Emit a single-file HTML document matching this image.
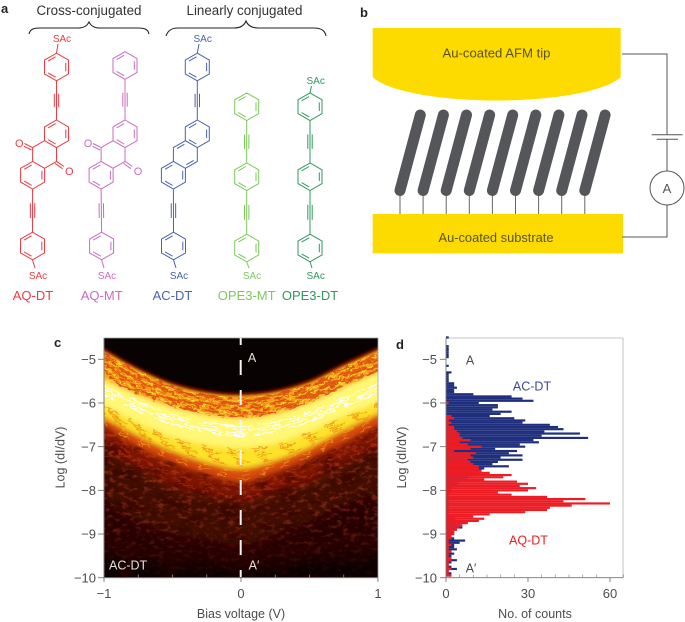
<!DOCTYPE html>
<html>
<head>
<meta charset="utf-8">
<style>
html,body{margin:0;padding:0;background:#fff;}
svg{display:block;font-family:"Liberation Sans",sans-serif;}
.tick{font-size:13px;fill:#4d4d4d;}
.axt{font-size:12.5px;fill:#4d4d4d;}
.pl{font-size:13px;font-weight:bold;fill:#222;}
.sac{font-size:10px;}
.lab{font-size:13px;}
</style>
</head>
<body>
<svg id="fig" width="685" height="622" viewBox="0 0 685 622" xmlns="http://www.w3.org/2000/svg">
<defs id="defs">
<clipPath id="plotclip"><rect x="104" y="338" width="274" height="239.7"/></clipPath>
<filter id="soft" x="-5%" y="-5%" width="110%" height="110%"><feGaussianBlur stdDeviation="1 1"/></filter>
<filter id="medium" x="-5%" y="-5%" width="110%" height="110%"><feGaussianBlur stdDeviation="2 2.6"/></filter>
<filter id="softer" x="-5%" y="-5%" width="110%" height="110%"><feGaussianBlur stdDeviation="4 6"/></filter>
<filter id="jag" x="-5%" y="-5%" width="110%" height="110%">
<feTurbulence type="fractalNoise" baseFrequency="0.16 0.3" numOctaves="2" seed="4" result="n"/>
<feDisplacementMap in="SourceGraphic" in2="n" scale="6" xChannelSelector="R" yChannelSelector="G"/>
<feGaussianBlur stdDeviation="0.35"/>
</filter>
<filter id="speck" x="0" y="0" width="100%" height="100%">
<feTurbulence type="fractalNoise" baseFrequency="0.14 0.24" numOctaves="3" seed="11"/>
<feColorMatrix type="matrix" values="0 0 0 0 0.6  0 0 0 0 0.06  0 0 0 0 0.02  3.8 0 0 0 -1.95"/>
<feGaussianBlur stdDeviation="0.35"/>
</filter>
<filter id="blotch" x="0" y="0" width="100%" height="100%">
<feTurbulence type="fractalNoise" baseFrequency="0.05 0.09" numOctaves="2" seed="23"/>
<feColorMatrix type="matrix" values="0 0 0 0 0.03  0 0 0 0 0  0 0 0 0 0  4 0 0 0 -1.95"/>
</filter>
<linearGradient id="fadeGrad" gradientUnits="userSpaceOnUse" x1="0" y1="440" x2="0" y2="578">
<stop offset="0" stop-color="#fff"/><stop offset="0.6" stop-color="#aaa"/><stop offset="0.88" stop-color="#333"/><stop offset="1" stop-color="#111"/>
</linearGradient>
<mask id="fadeMask" maskUnits="userSpaceOnUse" x="104" y="338" width="274" height="240"><rect x="104" y="338" width="274" height="240" fill="url(#fadeGrad)"/></mask>
</defs>

<!-- panel a -->
<g>
<text class="pl" x="1" y="13">a</text>
<text x="89" y="15" text-anchor="middle" font-size="13.5" fill="#333" textLength="105" lengthAdjust="spacingAndGlyphs">Cross-conjugated</text>
<text x="244.5" y="15" text-anchor="middle" font-size="13.5" fill="#333" textLength="116" lengthAdjust="spacingAndGlyphs">Linearly conjugated</text>
<path d="M29 34 C30 29 34 28 40 28 L78 28 C84 28 87 26 89 22 C91 26 94 28 100 28 L138 28 C144 28 148 29 149 34" fill="none" stroke="#222" stroke-width="1.1"/>
<path d="M166 36 C168 30 172 28 178 28 L234 28 C240 28 244 26 246 21 C248 26 252 28 258 28 L314 28 C320 28 325 30 326 36" fill="none" stroke="#222" stroke-width="1.1"/>

<g id="aq-dt" fill="#ee3a43" stroke="none">
<text class="sac" x="62" y="42" text-anchor="middle">SAc</text>
<text class="sac" x="38" y="279" text-anchor="middle">SAc</text>
<text x="19.3" y="147" text-anchor="middle" font-size="11">O</text>
<text x="69.3" y="175" text-anchor="middle" font-size="11">O</text>
<text class="lab" x="33" y="300" text-anchor="middle">AQ-DT</text>
</g>
<g id="aq-mt" fill="#c86dc0" stroke="none">
<text class="sac" x="107" y="279" text-anchor="middle">SAc</text>
<text x="88" y="147" text-anchor="middle" font-size="11">O</text>
<text x="138" y="175" text-anchor="middle" font-size="11">O</text>
<text class="lab" x="101.7" y="300" text-anchor="middle">AQ-MT</text>
</g>
<g id="ac-dt" fill="#4a62b0" stroke="none">
<text class="sac" x="202.7" y="42" text-anchor="middle">SAc</text>
<text class="sac" x="179" y="279" text-anchor="middle">SAc</text>
<text class="lab" x="172.5" y="300" text-anchor="middle">AC-DT</text>
</g>
<g id="ope3-mt" fill="#7cc85b" stroke="none">
<text class="sac" x="252" y="279" text-anchor="middle">SAc</text>
<text class="lab" x="246.7" y="300" text-anchor="middle">OPE3-MT</text>
</g>
<g id="ope3-dt" fill="#2f9a5c" stroke="none">
<text class="sac" x="315.7" y="84" text-anchor="middle">SAc</text>
<text class="sac" x="315.7" y="279" text-anchor="middle">SAc</text>
<text class="lab" x="310" y="300" text-anchor="middle">OPE3-DT</text>
</g>
</g>

<!-- panel b -->
<g id="panel-b">
<text class="pl" x="360" y="17">b</text>
<path d="M372.7 28 H620.7 V77 C605 92 550 100.5 496.7 100.5 C443 100.5 388 92 372.7 77 Z" fill="#fddb00"/>
<rect x="372.7" y="214" width="250.3" height="39.3" fill="#fddb00"/>
<text x="496.5" y="57.5" text-anchor="middle" font-size="13" fill="#5b5222" textLength="108" lengthAdjust="spacingAndGlyphs">Au-coated AFM tip</text>
<text x="496" y="242" text-anchor="middle" font-size="13" fill="#5b5222" textLength="115" lengthAdjust="spacingAndGlyphs">Au-coated substrate</text>
<path d="M622 54 H667 V134.5 M651.7 134.7 H682.7 M656.7 139.2 H678 M667 139.2 V171 M667 205 V237 H622" fill="none" stroke="#555" stroke-width="1"/>
<circle cx="667" cy="188" r="17" fill="#fff" stroke="#555" stroke-width="1"/>
<text x="667" y="193" text-anchor="middle" font-size="13" fill="#555">A</text>
</g>

<!-- panel c -->
<g id="panel-c">
<rect x="104" y="338" width="274" height="239.7" fill="#080202"/>
<g clip-path="url(#plotclip)">
<g id="bands" filter="url(#soft)"></g>
<g id="mid-bands" filter="url(#medium)"></g>
<g id="deep-bands" filter="url(#softer)"></g>
<g id="lower-texture">
<rect x="104" y="338" width="274" height="239.7" filter="url(#blotch)" opacity="0.45"/>
<g mask="url(#fadeMask)"><rect x="104" y="338" width="274" height="239.7" filter="url(#speck)" opacity="0.55"/></g>
</g>
<g id="streaks" filter="url(#jag)"></g>
</g>
<rect x="104" y="338" width="274" height="239.7" fill="none" stroke="#a0a0a0" stroke-width="0.8"/>
<line x1="240.7" y1="338" x2="240.7" y2="577" stroke="#f4f4f4" stroke-width="2" stroke-dasharray="7 15 15 15 15 15 15 15 15 15 15 15 15 15 15 15 15"/>
<text class="pl" x="54" y="347">c</text>
<text x="252" y="362" text-anchor="middle" font-size="12.5" fill="#e6e0d8">A</text>
<text x="254" y="569.5" text-anchor="middle" font-size="12.5" fill="#e6e0d8">A′</text>
<text x="109" y="569.5" font-size="12.5" fill="#e6e0d8">AC-DT</text>
<text class="axt" x="241" y="618" text-anchor="middle">Bias voltage (V)</text>
<text class="axt" transform="translate(64.5,457.5) rotate(-90)" text-anchor="middle">Log (dI/dV)</text>
<g id="axes-c"></g>
</g>

<!-- panel d -->
<g id="panel-d">
<path d="M446 338 H623 V577.7" fill="none" stroke="#b5b5b5" stroke-width="0.8"/>
<g id="bars-ac"></g>
<g id="bars-aq"></g>
<g id="axes-d"></g>
<text class="pl" x="396" y="349">d</text>
<text x="470" y="364.5" text-anchor="middle" font-size="12.5" fill="#4a4a4a">A</text>
<text x="471" y="572.5" text-anchor="middle" font-size="12.5" fill="#4a4a4a">A′</text>
<text x="532" y="390.5" text-anchor="middle" font-size="12.5" fill="#3f4a94">AC-DT</text>
<text x="528.5" y="544.5" text-anchor="middle" font-size="12.5" fill="#ed1c24">AQ-DT</text>
<text class="axt" x="535" y="618" text-anchor="middle">No. of counts</text>
<text class="axt" transform="translate(406,457.5) rotate(-90)" text-anchor="middle">Log (dI/dV)</text>
</g>
</svg>

<script>
// ---- Chart data ----
const yTicks = [-5, -6, -7, -8, -9, -10];
const yTickLabels = ['−5', '−6', '−7', '−8', '−9', '−10'];
const biasTicks = [-1, 0, 1];
const biasTickLabels = ['−1', '0', '1'];
const biasMinorTicks = [-0.75, -0.5, -0.25, 0.25, 0.5, 0.75];
const countTicks = [0, 30, 60];
const countTickLabels = ['0', '30', '60'];
const countMinorTicks = [5, 10, 15, 20, 25, 35, 40, 45, 50, 55, 65];

// Heatmap band boundaries (log dI/dV) read at each bias voltage
const biasColumns = [-1, -0.75, -0.5, -0.25, 0, 0.25, 0.5, 0.75, 1];
const edgeTop = [-4.73, -5.17, -5.51, -5.70, -5.76, -5.68, -5.45, -5.07, -4.71];
const orangeStart = [-4.82, -5.25, -5.59, -5.78, -5.84, -5.76, -5.54, -5.16, -4.80];
const yellowStart = [-5.45, -5.80, -6.08, -6.26, -6.34, -6.24, -5.98, -5.62, -5.28];
const paleEnd = [-6.05, -6.45, -6.78, -6.95, -7.02, -6.92, -6.65, -6.30, -5.98];
const yellowEnd = [-6.32, -6.75, -7.10, -7.36, -7.50, -7.32, -7.02, -6.62, -6.25];
const orangeEnd = [-6.50, -7.00, -7.35, -7.62, -7.80, -7.58, -7.25, -6.90, -6.50];
const whiteRidge = [-5.72, -6.08, -6.38, -6.56, -6.66, -6.55, -6.32, -5.98, -5.68];
const redEnd = [-7.00, -7.50, -7.90, -8.10, -8.25, -8.05, -7.80, -7.40, -7.05];
const darkEnd = [-8.20, -8.70, -9.00, -9.10, -9.25, -9.00, -8.70, -8.30, -8.10];
const fadeEnd = [-9.45, -9.55, -9.65, -9.65, -9.75, -9.65, -9.55, -9.45, -9.35];

// Histogram: counts per log bin
const logBinStart = -4.5;
const logBinStep = 0.05;
const acDtCounts = [
1,0,0,0,1,1,1,1,1,1,
0,0,0,1,0,0,2,1,1,1,
1,3,3,4,3,3,10,24,28,32,
12,19,19,17,24,20,16,25,29,28,
38,41,43,36,49,35,52,32,34,27,
29,18,26,23,28,20,28,19,17,23,
14,13,12,10,8,6,5,4,3,2,
2,2,1,1,1,1,1,1,1,1,
1,1,2,3,4,4,5,6,4,3,
3,2,3,7,5,3,3,4,2,3,
2,2,4,2,1,2,4,1,2,2];
const aqDtCounts = [
0,0,0,0,0,0,0,0,0,0,
0,0,0,0,0,0,0,0,0,0,
0,0,0,0,0,0,0,0,0,0,
1,0,0,0,0,0,2,3,1,2,
1,3,3,4,5,5,6,9,5,8,
13,9,3,11,9,10,8,9,10,12,
12,13,16,24,21,14,26,30,27,33,
30,19,24,37,51,43,60,46,38,37,
29,16,10,14,12,8,6,5,4,3,
3,2,2,1,1,2,1,1,2,1,
1,2,2,1,1,1,2,1,1,2];

// ---- Scales ----
const NS = 'http://www.w3.org/2000/svg';
const yLog = v => 359.3 + (-5 - v) * 43.68;
const xBias = v => 241 + v * 137;
const xCount = v => 446 + v * 2.733;

function mk(tag, parent, attrs) {
  const el = document.createElementNS(NS, tag);
  for (const k in attrs) el.setAttribute(k, attrs[k]);
  parent.appendChild(el);
  return el;
}

// ---- Heatmap ----
function smoothPath(values) {
  const pts = biasColumns.map((b, i) => [xBias(b), yLog(values[i])]);
  const first = pts[0];
  const last = pts[pts.length - 1];
  const slope0 = (pts[1][1] - first[1]) / (pts[1][0] - first[0]);
  const slope1 = (last[1] - pts[pts.length - 2][1]) / (last[0] - pts[pts.length - 2][0]);
  let d = 'M' + (first[0] - 20) + ' ' + (first[1] - slope0 * 20) + ' L' + first[0] + ' ' + first[1];
  for (let i = 0; i < pts.length - 1; i++) {
    const p0 = pts[Math.max(i - 1, 0)], p1 = pts[i], p2 = pts[i + 1], p3 = pts[Math.min(i + 2, pts.length - 1)];
    d += ' C' + (p1[0] + (p2[0] - p0[0]) / 6) + ' ' + (p1[1] + (p2[1] - p0[1]) / 6) + ' ' +
      (p2[0] - (p3[0] - p1[0]) / 6) + ' ' + (p2[1] - (p3[1] - p1[1]) / 6) + ' ' + p2[0] + ' ' + p2[1];
  }
  d += ' L' + (last[0] + 20) + ' ' + (last[1] + slope1 * 20);
  return d;
}
const bandsG = document.getElementById('bands');
const midG = document.getElementById('mid-bands');
const deepG = document.getElementById('deep-bands');
const upperLevels = [edgeTop, orangeStart];
const upperColors = ['#7a1106', '#f6a01a'];
upperLevels.forEach((lvl, i) => {
  const band = mk('path', bandsG, {d: smoothPath(lvl) + ' V620 H60 Z', fill: upperColors[i]});
  
  
});
const midLevels = [yellowStart, paleEnd, yellowEnd, orangeEnd];
const midColors = ['#fff774', '#fde22a', '#d8490c', '#7e1505'];
midLevels.forEach((lvl, i) => {
  const band = mk('path', midG, {d: smoothPath(lvl) + ' V620 H60 Z', fill: midColors[i]});
  
  
});
const deepLevels = [redEnd, darkEnd, fadeEnd];
const deepColors = ['#400a04', '#260603', '#0c0201'];
deepLevels.forEach((lvl, i) => {
  const band = mk('path', deepG, {d: smoothPath(lvl) + ' V620 H60 Z', fill: deepColors[i]});
  
  
});
// limit speckle texture to the region below the orange boundary
const lowerClip = mk('clipPath', document.getElementById('defs'), {id: 'lowerclip'});


const lowerClipPath = mk('path', lowerClip, {d: smoothPath(orangeEnd) + ' V620 H60 Z'});


document.getElementById('lower-texture').setAttribute('clip-path', 'url(#lowerclip)');

const streaksG = document.getElementById('streaks');
const upperStreakFractions = [0.1, 0.22, 0.34, 0.46, 0.58, 0.7, 0.82, 0.94];
const ridgeStreakOffsets = [-0.1, -0.03, 0.04, 0.11];
const midStreakFractions = [0.1, 0.25, 0.4, 0.55, 0.7, 0.85];
const lowerStreakFractions = [0.2, 0.5, 0.8];
function addStreaks(fractions, from, to, color, width, dash, opacity) {
  fractions.forEach((f, n) => {
    const vals = from.map((v, i) => v + (to[i] - v) * f);
    const s = mk('path', streaksG, {d: smoothPath(vals), fill: 'none', stroke: color, 'stroke-width': width,
      'stroke-dasharray': dash, 'stroke-dashoffset': n * 23, opacity: opacity});
    
    
  });
}
addStreaks(upperStreakFractions, orangeStart, yellowStart, '#d9470c', 1.9, '36 6 20 5 48 9', 0.85);
addStreaks(upperStreakFractions, orangeStart, yellowStart, '#fde52e', 1.1, '14 22 9 17 22 26', 0.9);
ridgeStreakOffsets.forEach((off, n) => {
  const vals = whiteRidge.map(v => v + off);
  const s = mk('path', streaksG, {d: smoothPath(vals), fill: 'none', stroke: '#ffffff', 'stroke-width': 1.2,
    'stroke-dasharray': '34 9 22 14 48 10', 'stroke-dashoffset': n * 29});
  
  
});
addStreaks(midStreakFractions, paleEnd, yellowEnd, '#f09212', 1.2, '9 15 16 11 5 21', 0.85);
addStreaks(lowerStreakFractions, yellowEnd, orangeEnd, '#f6a81c', 1.0, '9 12 13 10 6 15', 0.7);
addStreaks(lowerStreakFractions, orangeEnd, redEnd, '#c7300b', 1.0, '10 10 18 8 7 14', 0.6);

// ---- Axes ----
function drawAxes(g, x0, ticks, labels, labelRight) {
  ticks.forEach((t, i) => {
    const tk = mk('line', g, {x1: x0 - 6, x2: x0, y1: yLog(t), y2: yLog(t), stroke: '#777', 'stroke-width': 0.9});
    
    
    const lb = mk('text', g, {x: labelRight, y: yLog(t) + 4.7, 'text-anchor': 'end', class: 'tick'});
    
    
    lb.textContent = labels[i];
  });
  const spine = mk('line', g, {x1: x0, x2: x0, y1: 338, y2: 577.7, stroke: '#777', 'stroke-width': 0.9});
  
  
}
function drawXTicks(g, scale, ticks, labels, minors, x0, x1) {
  const base = mk('line', g, {x1: x0, x2: x1, y1: 577.7, y2: 577.7, stroke: '#777', 'stroke-width': 0.9});
  
  
  ticks.forEach((t, i) => {
    const tk = mk('line', g, {x1: scale(t), x2: scale(t), y1: 577.7, y2: 582, stroke: '#777', 'stroke-width': 0.9});
    
    
    const lb = mk('text', g, {x: scale(t), y: 598, 'text-anchor': 'middle', class: 'tick'});
    
    
    lb.textContent = labels[i];
  });
  minors.forEach(t => {
    const tk = mk('line', g, {x1: scale(t), x2: scale(t), y1: 577.7, y2: 574.5, stroke: '#999', 'stroke-width': 0.8});
    
    
  });
}
const axesC = document.getElementById('axes-c');
const axesD = document.getElementById('axes-d');
drawAxes(axesC, 104, yTicks, yTickLabels, 96);
drawXTicks(axesC, xBias, biasTicks, biasTickLabels, biasMinorTicks, 104, 378);
drawAxes(axesD, 446, yTicks, yTickLabels, 437);
drawXTicks(axesD, xCount, countTicks, countTickLabels, countMinorTicks, 446, 623);

// ---- Histogram ----
function drawBars(g, counts, color) {
  counts.forEach((c, i) => {
    if (!c) return;
    const top = yLog(logBinStart - logBinStep * i);
    const h = logBinStep * 43.68;
    const bar = mk('rect', g, {x: xCount(0), y: top - h / 2, width: c * 2.733, height: h, fill: color});
    
    
  });
}
drawBars(document.getElementById('bars-ac'), acDtCounts, '#1f2f7d');
drawBars(document.getElementById('bars-aq'), aqDtCounts, '#ed1c24');

// ---- Panel b rods ----
const panelB = document.getElementById('panel-b');
for (let i = 0; i < 9; i++) {
  const dx = i * 23.1;
  const stem = mk('line', panelB, {x1: 400 + dx, x2: 400 + dx, y1: 194, y2: 214, stroke: '#666', 'stroke-width': 1});
  
  
  const rod = mk('line', panelB, {x1: 400 + dx, y1: 190.5, x2: 420.3 + dx, y2: 115, stroke: '#54565a', 'stroke-width': 11, 'stroke-linecap': 'round'});
  
  
}

// ---- Panel a bond drawing ----
const R = 13.8;
function ring(cx, cy, sides) {
  let d = '';
  const v = [];
  for (let k = 0; k < 6; k++) {
    const a = (-90 + 60 * k) * Math.PI / 180;
    v.push([cx + R * Math.cos(a), cy + R * Math.sin(a)]);
  }
  d += 'M' + v.map(p => p[0].toFixed(1) + ' ' + p[1].toFixed(1)).join(' L') + ' Z ';
  sides.forEach(s => {
    const p = v[s], q = v[(s + 1) % 6];
    const f = 0.78;
    const a = [cx + (p[0] - cx) * f, cy + (p[1] - cy) * f];
    const b = [cx + (q[0] - cx) * f, cy + (q[1] - cy) * f];
    d += 'M' + (a[0] + (b[0] - a[0]) * 0.1).toFixed(1) + ' ' + (a[1] + (b[1] - a[1]) * 0.1).toFixed(1) +
      ' L' + (b[0] - (b[0] - a[0]) * 0.1).toFixed(1) + ' ' + (b[1] - (b[1] - a[1]) * 0.1).toFixed(1) + ' ';
  });
  return d;
}
function triple(x1, y1, x2, y2) {
  const ym1 = y1 + (y2 - y1) * 0.33, ym2 = y1 + (y2 - y1) * 0.67;
  const xm1 = x1 + (x2 - x1) * 0.33, xm2 = x1 + (x2 - x1) * 0.67;
  return 'M' + x1 + ' ' + y1 + ' L' + x2 + ' ' + y2 + ' M' + (xm1 - 2.2) + ' ' + ym1 + ' L' + (xm2 - 2.2) + ' ' + ym2 +
    ' M' + (xm1 + 2.2) + ' ' + ym1 + ' L' + (xm2 + 2.2) + ' ' + ym2 + ' ';
}
function bonds(id, color, d) {
  const g = document.getElementById(id);
  const p = mk('path', g, {d: d, fill: 'none', stroke: color, 'stroke-width': 1});
  
  
}
const oneSide = [1, 3, 5];
function fused(ox, isQuinone) {
  let d = ring(ox + 56.5, 133.8, oneSide) + ring(ox + 32.6, 175.2, oneSide);
  if (isQuinone) {
    d += ring(ox + 44.55, 154.5, []);
    d += 'M' + (ox + 32.6) + ' 147.6 L' + (ox + 24.5) + ' 143.5 M' + (ox + 31.5) + ' 150 L' + (ox + 24) + ' 146.3 ';
    d += 'M' + (ox + 56.5) + ' 161.4 L' + (ox + 64) + ' 166.5 M' + (ox + 55) + ' 163.4 L' + (ox + 62.5) + ' 168.7 ';
  } else {
    d += ring(ox + 44.55, 154.5, [2, 5]);
  }
  return d;
}
bonds('aq-dt', '#ee3a43',
  'M58 44 L56.5 53 ' + ring(56.5, 67, oneSide) + triple(56.5, 80.8, 56.5, 120) + fused(0, true) +
  triple(32.6, 189, 32.5, 232.2) + ring(32.5, 246, oneSide) + 'M32.5 259.8 L35 268 ');
bonds('aq-mt', '#c86dc0',
  ring(125, 65.5, oneSide) + triple(125, 79.3, 125, 120) + fused(68.5, true) +
  triple(101.1, 189, 101.6, 232.2) + ring(101.6, 246, oneSide) + 'M101.6 259.8 L104 268 ');
bonds('ac-dt', '#4a62b0',
  'M199 44 L197.3 53 ' + ring(197.3, 67, oneSide) + triple(197.3, 80.8, 197.3, 120) + fused(140.8, false) +
  triple(173.4, 189, 173.5, 232.2) + ring(173.5, 246, oneSide) + 'M173.5 259.8 L176 268 ');
bonds('ope3-mt', '#7cc85b',
  ring(246.7, 106.7, oneSide) + triple(246.7, 120.5, 246.7, 162.9) + ring(246.7, 176.7, oneSide) +
  triple(246.7, 190.5, 246.7, 234.2) + ring(246.7, 248, oneSide) + 'M246.7 261.8 L249 268 ');
bonds('ope3-dt', '#2f9a5c',
  'M311.5 86 L310 92.9 ' + ring(310, 106.7, oneSide) + triple(310, 120.5, 310, 162.9) + ring(310, 176.7, oneSide) +
  triple(310, 190.5, 310, 234.2) + ring(310, 248, oneSide) + 'M310 261.8 L312 268 ');
</script>
</body>
</html>
